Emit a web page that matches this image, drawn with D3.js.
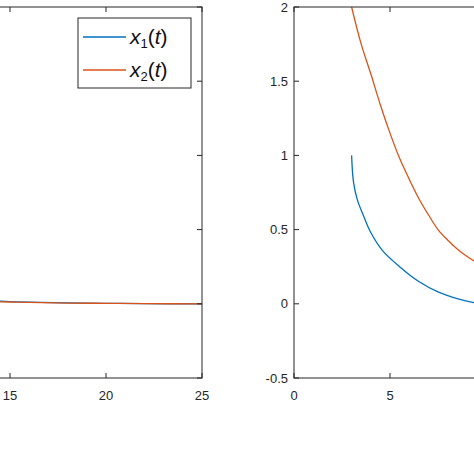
<!DOCTYPE html><html><head><script src="https://cdn.jsdelivr.net/npm/d3@7"></script>
<style>body{margin:0;background:#fff}text{font-family:"Liberation Sans",Arial,sans-serif}</style></head><body>
<svg id="c" width="474" height="474"></svg>
<script>
const leftT=[13,14,15,16,18,20,22,25];
const leftX1=[0.025,0.02,0.015,0.011,0.006,0.003,0.001,0.0];
const leftX2=[0.018,0.015,0.012,0.009,0.005,0.003,0.001,0.0];
const rightT1=[3,3.1,3.3,3.6,4,4.6,5.5,6.5,7.5,8.5,9.3,10];
const rightX1=[1,0.82,0.70,0.60,0.48,0.36,0.25,0.15,0.08,0.035,0.01,0];
const rightT2=[3,3.5,4,4.5,5,5.5,6,6.5,7,7.5,8,8.5,9,9.5,10];
const rightX2=[2,1.75,1.55,1.34,1.15,0.98,0.84,0.71,0.60,0.50,0.43,0.37,0.32,0.28,0.25];
const yTicks=[-0.5,0,0.5,1,1.5,2];
const xTicks=[0,5,10,15,20,25];
const blue="#0072BD",orange="#D95319";
const svg=d3.select("#c");
const y=d3.scaleLinear().domain([-0.5,2]).range([378,7]);
function panel(x0,x1px,showLeftLabels,series,id){
  const x=d3.scaleLinear().domain([0,25]).range([x0,x1px]);
  const g=svg.append("g");
  g.append("clipPath").attr("id",id).append("rect").attr("x",x0).attr("y",7).attr("width",x1px-x0).attr("height",371);
  const line=d3.line().x(d=>x(d[0])).y(d=>y(d[1])).curve(d3.curveCatmullRom);
  series.forEach(s=>g.append("path").attr("clip-path",`url(#${id})`).attr("d",line(d3.zip(s.t,s.v))).attr("fill","none").attr("stroke",s.c).attr("stroke-width",1.3));
  g.append("rect").attr("x",x0).attr("y",7).attr("width",x1px-x0).attr("height",371).attr("fill","none").attr("stroke","#262626").attr("stroke-width",1);
  xTicks.forEach(t=>{const px=x(t);
    g.append("line").attr("x1",px).attr("x2",px).attr("y1",378).attr("y2",373).attr("stroke","#262626");
    g.append("line").attr("x1",px).attr("x2",px).attr("y1",7).attr("y2",12).attr("stroke","#262626");
    if(px>0&&px<474)g.append("text").attr("x",px).attr("y",400).attr("text-anchor","middle").attr("font-size",13).attr("fill","#262626").text(t);});
  yTicks.forEach(v=>{const py=y(v);
    g.append("line").attr("x1",x0).attr("x2",x0+5).attr("y1",py).attr("y2",py).attr("stroke","#262626");
    g.append("line").attr("x1",x1px).attr("x2",x1px-5).attr("y1",py).attr("y2",py).attr("stroke","#262626");
    if(showLeftLabels)g.append("text").attr("x",x0-6).attr("y",py+4.5).attr("text-anchor","end").attr("font-size",13).attr("fill","#262626").text(v);});
  return x;
}
panel(202-25*19.2,202,false,[{t:leftT,v:leftX1,c:blue},{t:leftT,v:leftX2,c:orange}],"cl");
panel(294,294+25*19.2,true,[{t:rightT1,v:rightX1,c:blue},{t:rightT2,v:rightX2,c:orange}],"cr");
const lg=svg.append("g");
lg.append("rect").attr("x",78).attr("y",18).attr("width",113).attr("height",70).attr("fill","#fff").attr("stroke","#262626");
[["1",blue,37],["2",orange,70]].forEach(([s,c,yy])=>{
  lg.append("line").attr("x1",83).attr("x2",126).attr("y1",yy).attr("y2",yy).attr("stroke",c).attr("stroke-width",1.3);
  const t=lg.append("text").attr("x",130).attr("y",yy+7).attr("font-family","'DejaVu Serif','Liberation Serif',serif").attr("font-size",21).attr("fill","#111");
  t.append("tspan").attr("font-style","italic").text("x");
  t.append("tspan").attr("font-size",13).attr("dy",4).text(s);
  t.append("tspan").attr("dy",-4).text("(");
  t.append("tspan").attr("font-style","italic").text("t");
  t.append("tspan").text(")");
});
</script></body></html>
